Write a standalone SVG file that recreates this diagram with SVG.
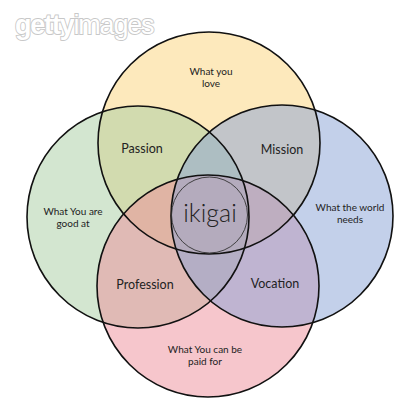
<svg xmlns="http://www.w3.org/2000/svg" width="416" height="416" viewBox="0 0 416 416">
  <style>
    .fill { fill-opacity: 0.5; stroke: none; }
    .ring { fill: none; stroke: #111; stroke-width: 1.6; }
    .lbl { font-family: Lato, "Liberation Sans", sans-serif; fill: #222; text-anchor: middle; }
    .sm { font-size: 10px; }
    .md { font-size: 12.5px; }
    .wm { font-family: "Liberation Sans", Arial, sans-serif; font-size: 27px; fill: #ffffff; stroke: #c8c8c8; stroke-width: 1.8; paint-order: stroke; letter-spacing: -1.2px; }
  </style>
  <rect width="416" height="416" fill="#ffffff"/>

  <text class="wm" x="15" y="34"><tspan font-weight="bold">getty</tspan><tspan>images</tspan></text>

  <g id="fills">
    <circle class="fill" cx="209" cy="143" r="111" fill="#fbd379"/>
    <circle class="fill" cx="138" cy="217" r="111" fill="#a7cda1"/>
    <circle class="fill" cx="208" cy="286" r="111" fill="#ed8d99"/>
    <circle class="fill" cx="282" cy="216" r="111" fill="#87a1d5"/>
  </g>

  <g id="connectors"></g>

  <g id="love">
    <circle class="ring" cx="209" cy="143" r="111"/>
    <text class="lbl sm" x="211" y="75">What you</text>
    <text class="lbl sm" x="211" y="87">love</text>
  </g>
  <g id="good-at">
    <circle class="ring" cx="138" cy="217" r="111"/>
    <text class="lbl sm" x="73" y="215">What You are</text>
    <text class="lbl sm" x="73" y="227">good at</text>
  </g>
  <g id="paid-for">
    <circle class="ring" cx="208" cy="286" r="111"/>
    <text class="lbl sm" x="205" y="353">What You can be</text>
    <text class="lbl sm" x="205" y="365">paid for</text>
  </g>
  <g id="world-needs">
    <circle class="ring" cx="282" cy="216" r="111"/>
    <text class="lbl sm" x="350" y="211">What the world</text>
    <text class="lbl sm" x="350" y="223">needs</text>
  </g>
  <g id="passion"><text class="lbl md" x="142" y="153">Passion</text></g>
  <g id="mission"><text class="lbl md" x="282" y="154">Mission</text></g>
  <g id="profession"><text class="lbl md" x="145" y="289">Profession</text></g>
  <g id="vocation"><text class="lbl md" x="275" y="288">Vocation</text></g>
  <g id="ikigai">
    <circle cx="209.5" cy="215" r="38" fill="none" stroke="#333" stroke-width="0.9"/>
    <text class="lbl" x="210" y="222" font-size="25" font-weight="300">ikigai</text>
  </g>
</svg>
